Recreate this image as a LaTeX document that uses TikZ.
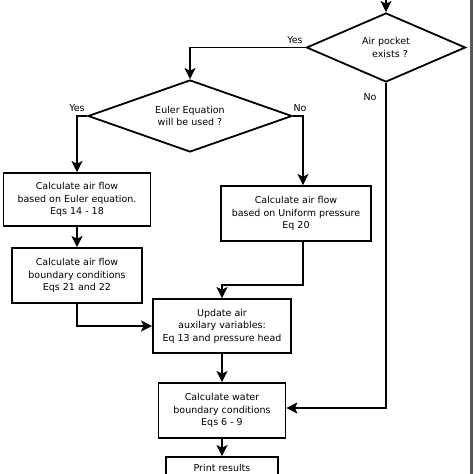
\documentclass[tikz,border=0pt]{standalone}
\usepackage{fontspec}
\setmainfont{DejaVu Sans}
\usetikzlibrary{shapes.geometric,arrows.meta}

\tikzset{every picture/.style={line width=1.8pt}}
\tikzset{
  procbox/.style={draw, rectangle, align=center, inner sep=0pt, font=\fontsize{9.5}{12.5}\selectfont},
  decision/.style={draw, diamond, aspect=2.3, align=center, inner sep=0pt, font=\fontsize{9.5}{12.5}\selectfont},
  flowarrow/.style={-{Stealth[length=11pt,width=11pt,inset=2.5pt]}},
  branchlabel/.style={inner sep=0.75pt, font=\fontsize{9.5}{12.5}\selectfont}
}

\begin{document}
\begin{tikzpicture}[x=1pt,y=1pt,yscale=-1,xscale=1]
\useasboundingbox (0,0) rectangle (474,474);

% Decisions
\node [decision, minimum width=159, minimum height=69] (airpocket) at (386,47.5) {Air pocket\\\hspace{8pt}exists ?};
\node [decision, minimum width=204, minimum height=72] (euler) at (190,116) {Euler Equation\\will be used ?};

% Process boxes
\node [procbox, minimum width=147, minimum height=53] (eulflow) at (77,199.5) {Calculate air flow\\based on Euler equation.\\Eqs 14 - 18};
\node [procbox, minimum width=130, minimum height=55] (eulbc) at (77,275.5) {Calculate air flow\\boundary conditions\\Eqs 21 and 22};
\node [procbox, minimum width=150, minimum height=55] (uniflow) at (296,213.5) {Calculate air flow\\based on Uniform pressure\\Eq 20};
\node [procbox, minimum width=138, minimum height=54] (update) at (222,326) {Update air\\auxilary variables:\\Eq 13 and pressure head};
\node [procbox, minimum width=127, minimum height=55] (water) at (222,410.5) {Calculate water\\boundary conditions\\Eqs 6 - 9};
\node [procbox, minimum width=112, minimum height=55] (print) at (222,484.5) {};
\node [branchlabel, anchor=base] (printtext) at (222,471.5) {Print results};

\coordinate (entry) at (386,-4);

% Connectors
\draw [flowarrow] (entry) -- (airpocket.north);
\draw [flowarrow] (airpocket.west) -| (euler.north);
\draw [flowarrow] (euler.west) -| (eulflow.north);
\draw [flowarrow] (euler.east) -| ([xshift=7pt]uniflow.north);
\draw [flowarrow] (eulflow.south) -- (eulbc.north);
\draw [flowarrow] (eulbc.south) |- (update.west);
\draw [flowarrow] ([xshift=7pt]uniflow.south) -- ++(0,43) -| (update.north);
\draw [flowarrow] (update.south) -- (water.north);
\draw [flowarrow] (airpocket.south) |- ([yshift=-2.5pt]water.east);
\draw [flowarrow] (water.south) -- (print.north);

% Text Node
\node [branchlabel] (yesair) at (295,40) {Yes};
\node [branchlabel] (noair) at (370,97) {No};
\node [branchlabel] (yeseul) at (77,108) {Yes};
\node [branchlabel] (noeul) at (300,108) {No};

% Border
\draw [line width=3pt, black!65] (471,0) -- (471,474);

\end{tikzpicture}
\end{document}
